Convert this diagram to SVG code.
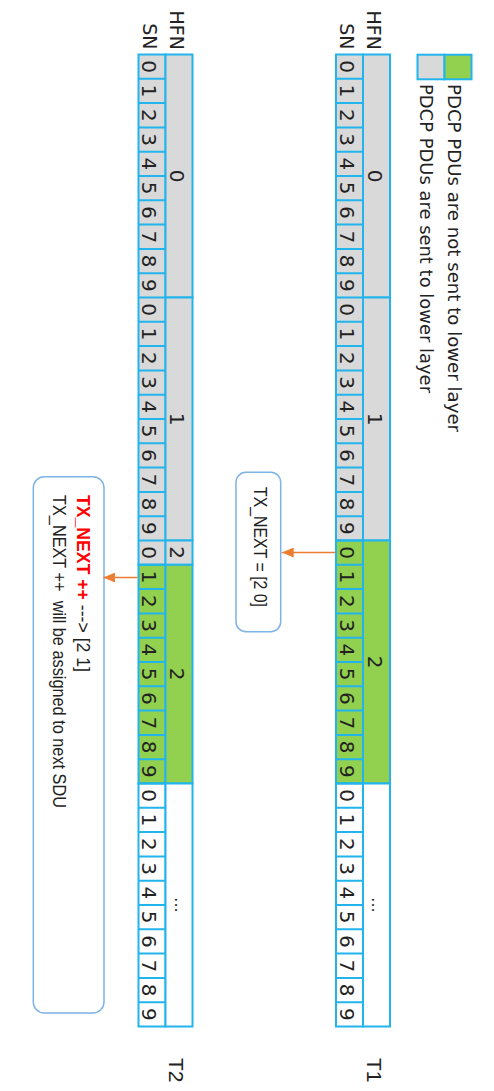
<svg xmlns="http://www.w3.org/2000/svg" xmlns:xlink="http://www.w3.org/1999/xlink" width="494" height="1091" viewBox="0 0 494 1091">
<style>
.grey{fill:#D9D9D9;stroke:#22B4EC;stroke-width:2}
.green{fill:#92D050;stroke:#22B4EC;stroke-width:2}
.white{fill:#FFFFFF;stroke:#22B4EC;stroke-width:2}
.rl{fill:none;stroke:#22B4EC;stroke-width:2}
.d{font-family:"DejaVu Sans",sans-serif;font-size:20px;fill:#222;text-anchor:middle}
.h{font-family:"DejaVu Sans",sans-serif;font-size:19px;fill:#222;text-anchor:end}
.lg{font-family:"DejaVu Sans",sans-serif;font-size:18px;fill:#222}
.t{font-family:"Liberation Sans",Arial,sans-serif;font-size:19px;fill:#222;white-space:pre}
.call{fill:#FFFFFF;stroke:#7DB3E6;stroke-width:1.5}
.arr{stroke:#ED7D31;stroke-width:1.5;fill:none}
</style>
<defs>
<marker id="ah" markerUnits="userSpaceOnUse" markerWidth="12" markerHeight="10" refX="12" refY="5" orient="auto"><path d="M0,0 L12,5 L0,10 z" fill="#ED7D31"/></marker>
<path id="rowlines" d="M0 78.8H27M0 103.1H27M0 127.4H27M0 151.7H27M0 176H27M0 200.3H27M0 224.6H27M0 248.9H27M0 273.2H27M0 297.5H27M0 321.8H27M0 346.1H27M0 370.4H27M0 394.7H27M0 419H27M0 443.3H27M0 467.6H27M0 491.9H27M0 516.2H27M0 540.5H27M0 564.8H27M0 589.1H27M0 613.4H27M0 637.7H27M0 662H27M0 686.3H27M0 710.6H27M0 734.9H27M0 759.2H27M0 783.5H27M0 807.8H27M0 832.1H27M0 856.4H27M0 880.7H27M0 905H27M0 929.3H27M0 953.6H27M0 977.9H27M0 1002.2H27"/>
<g id="digits">
<text class="d" x="66.65">0</text><text class="d" x="90.95">1</text><text class="d" x="115.25">2</text><text class="d" x="139.55">3</text><text class="d" x="163.85">4</text><text class="d" x="188.15">5</text><text class="d" x="212.45">6</text><text class="d" x="236.75">7</text><text class="d" x="261.05">8</text><text class="d" x="285.35">9</text>
<text class="d" x="309.65">0</text><text class="d" x="333.95">1</text><text class="d" x="358.25">2</text><text class="d" x="382.55">3</text><text class="d" x="406.85">4</text><text class="d" x="431.15">5</text><text class="d" x="455.45">6</text><text class="d" x="479.75">7</text><text class="d" x="504.05">8</text><text class="d" x="528.35">9</text>
<text class="d" x="552.65">0</text><text class="d" x="576.95">1</text><text class="d" x="601.25">2</text><text class="d" x="625.55">3</text><text class="d" x="649.85">4</text><text class="d" x="674.15">5</text><text class="d" x="698.45">6</text><text class="d" x="722.75">7</text><text class="d" x="747.05">8</text><text class="d" x="771.35">9</text>
<text class="d" x="795.65">0</text><text class="d" x="819.95">1</text><text class="d" x="844.25">2</text><text class="d" x="868.55">3</text><text class="d" x="892.85">4</text><text class="d" x="917.15">5</text><text class="d" x="941.45">6</text><text class="d" x="965.75">7</text><text class="d" x="990.05">8</text><text class="d" x="1014.35">9</text>
</g>
</defs>

<g id="legend">
<rect class="grey" x="417.5" y="54.7" width="27" height="24.6"/>
<rect class="green" x="444.5" y="54.7" width="27" height="24.6"/>
<g transform="rotate(90)">
<text class="lg" x="84" y="-447.5" textLength="348" lengthAdjust="spacingAndGlyphs">PDCP PDUs are not sent to lower layer</text>
<text class="lg" x="84" y="-420" textLength="309" lengthAdjust="spacingAndGlyphs">PDCP PDUs are sent to lower layer</text>
</g>
</g>

<g id="T1">
<rect class="grey" x="336" y="54.5" width="27" height="486"/>
<rect class="green" x="336" y="540.5" width="27" height="243"/>
<rect class="white" x="336" y="783.5" width="27" height="243"/>
<use xlink:href="#rowlines" x="336" class="rl"/>
<rect class="grey" x="363" y="54.5" width="27" height="243"/>
<rect class="grey" x="363" y="297.5" width="27" height="243"/>
<rect class="green" x="363" y="540.5" width="27" height="243"/>
<rect class="white" x="363" y="783.5" width="27" height="243"/>
<g transform="rotate(90)">
<text class="h" x="50" y="-367">HFN</text>
<text class="h" x="49.5" y="-340">SN</text>
<use xlink:href="#digits" y="-340"/>
<text class="d" x="176" y="-367.5">0</text>
<text class="d" x="419" y="-367.5">1</text>
<text class="d" x="662" y="-367.5">2</text>
<text class="d" x="905" y="-372" style="font-size:16px">...</text>
<text class="t" x="1058" y="-366.5" style="font-size:21px">T1</text>
</g>
</g>

<g id="T2">
<rect class="grey" x="138.5" y="54.5" width="27" height="510.3"/>
<rect class="green" x="138.5" y="564.8" width="27" height="218.7"/>
<rect class="white" x="138.5" y="783.5" width="27" height="243"/>
<use xlink:href="#rowlines" x="138.5" class="rl"/>
<rect class="grey" x="165.5" y="54.5" width="27" height="243"/>
<rect class="grey" x="165.5" y="297.5" width="27" height="243"/>
<rect class="grey" x="165.5" y="540.5" width="27" height="24.3"/>
<rect class="green" x="165.5" y="564.8" width="27" height="218.7"/>
<rect class="white" x="165.5" y="783.5" width="27" height="243"/>
<g transform="rotate(90)">
<text class="h" x="50" y="-169.5">HFN</text>
<text class="h" x="49.5" y="-142.5">SN</text>
<use xlink:href="#digits" y="-142"/>
<text class="d" x="176" y="-169.5">0</text>
<text class="d" x="419" y="-169.5">1</text>
<text class="d" x="552.65" y="-169.5">2</text>
<text class="d" x="674.15" y="-169.5">2</text>
<text class="d" x="905" y="-174.5" style="font-size:16px">...</text>
<text class="t" x="1058" y="-169" style="font-size:21px">T2</text>
</g>
</g>

<g id="callout1">
<rect class="call" x="236" y="472.3" width="44.7" height="159.4" rx="10"/>
<g transform="rotate(90)">
<text class="t" x="487" y="-253.5" textLength="120" lengthAdjust="spacingAndGlyphs">TX_NEXT = [2 0]</text>
</g>
</g>

<g id="callout2">
<rect class="call" x="33.3" y="476.7" width="70.7" height="536.3" rx="11"/>
<g transform="rotate(90)">
<text class="t" x="495" y="-76.7" textLength="177" lengthAdjust="spacingAndGlyphs" style="font-size:18.5px"><tspan fill="#FF0000" font-weight="bold">TX_NEXT ++</tspan> ---&gt; [2 1]</text>
<text class="t" x="495" y="-53.3" textLength="313" lengthAdjust="spacingAndGlyphs" style="font-size:18.5px">TX_NEXT ++  will be assigned to next SDU</text>
</g>
</g>

<g id="connectors">
<line class="arr" x1="335" y1="552.5" x2="281.7" y2="552.5" marker-end="url(#ah)"/>
<line class="arr" x1="137.5" y1="577.5" x2="103.3" y2="577.5" marker-end="url(#ah)"/>
</g>
</svg>
